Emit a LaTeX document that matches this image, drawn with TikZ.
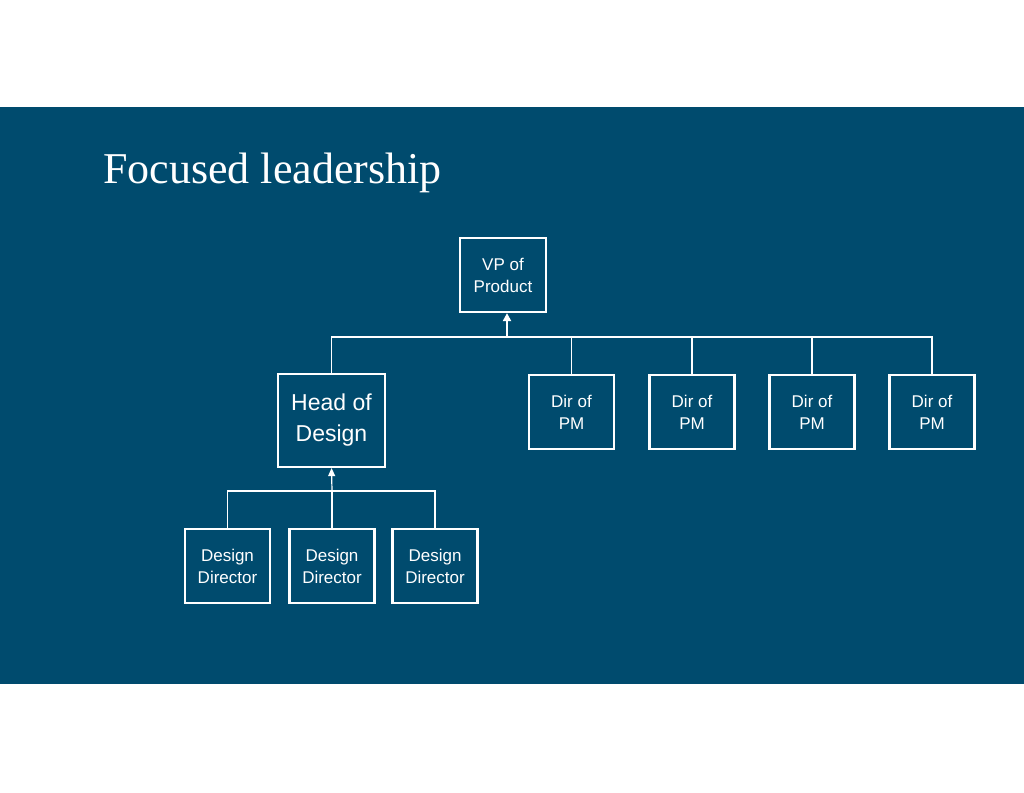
\documentclass[tikz,border=0pt]{standalone}
\usepackage{fontspec}
\setmainfont{Liberation Sans}
\newfontfamily\titlefont{Liberation Serif}
\usetikzlibrary{arrows.meta}
\definecolor{bg}{RGB}{0,75,110}
\begin{document}
\begin{tikzpicture}[x=1pt,y=-1pt,
  box/.style={draw=white,line width=2.2pt,text=white,align=center,inner sep=0pt,font=\fontsize{17}{22}\selectfont},
  conn/.style={draw=white,line width=1.2pt},
  up/.style={draw=white,line width=2.5pt,-{Triangle[length=8pt,width=8pt]}}]
\useasboundingbox (0,0) rectangle (1024,792);
\fill[white] (0,0) rectangle (1024,792);
\fill[bg] (0,107) rectangle (1024,684);
\node[anchor=base west,text=white,font=\titlefont\fontsize{44}{50}\selectfont,inner sep=0pt] (title) at (103,183) {Focused leadership};
\node[box,minimum width=86pt,minimum height=74pt] (vp) at (503,275) {VP of\\Product};
\node[box,minimum width=107pt,minimum height=93pt,font=\fontsize{23}{31}\selectfont] (hd) at (331.5,420.5) {Head of\\Design};
\foreach \i/\x in {1/571.5,2/692,3/812,4/932}
  \node[box,minimum width=85pt,minimum height=74pt] (pm\i) at (\x,412) {Dir of\\PM};
\foreach \i/\x in {1/227.5,2/332,3/435}
  \node[box,minimum width=85pt,minimum height=74pt] (dd\i) at (\x,566) {Design\\Director};
\coordinate (j1) at (507,337);
\coordinate (j2) at (332,491);
\draw[conn] (hd.north) -- (hd.north|-j1) -- (pm4.north|-j1) -- (pm4.north);
\foreach \i in {1,2,3} \draw[conn] (pm\i.north) -- (pm\i.north|-j1);
\draw[up] (j1) -- (j1|-vp.south);
\draw[conn] (dd1.north) -- (dd1.north|-j2) -- (dd3.north|-j2) -- (dd3.north);
\draw[conn] (dd2.north) -- (j2);
\draw[conn,-{Triangle[length=8pt,width=7pt]}] (j2) -- (hd.south);
\end{tikzpicture}
\end{document}
